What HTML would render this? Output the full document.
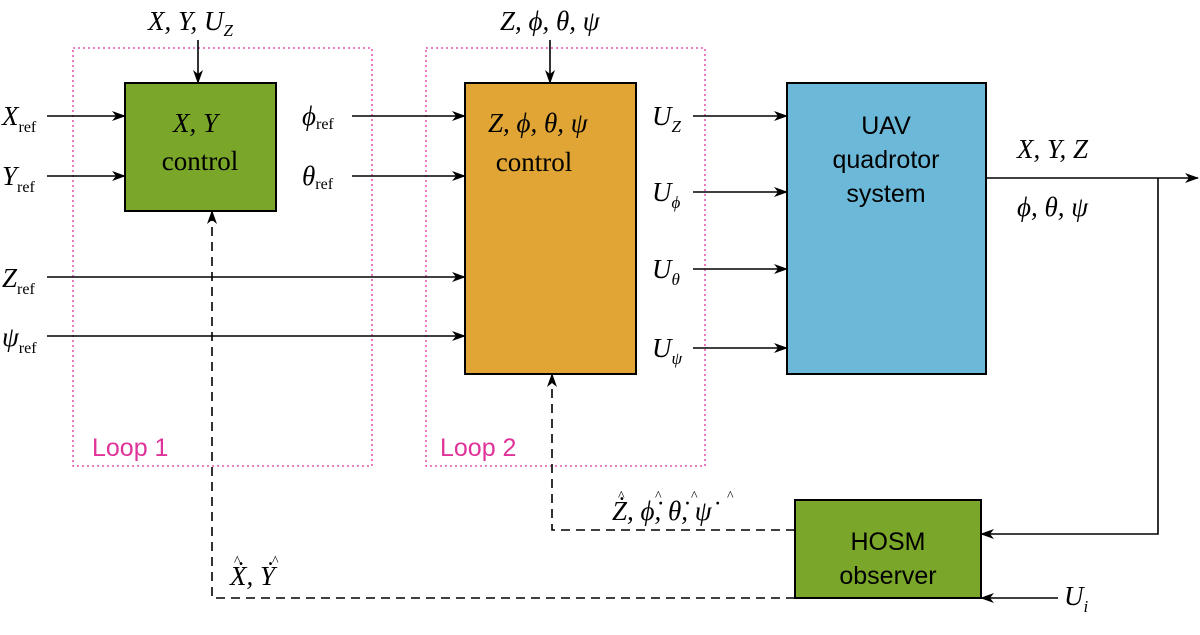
<!DOCTYPE html>
<html><head><style>
body{margin:0;background:#fff}
svg text{font-family:"Liberation Serif",serif;fill:#000}
.s{font-family:"Liberation Sans",sans-serif}
</style></head><body>
<svg width="1200" height="630" viewBox="0 0 1200 630" xmlns="http://www.w3.org/2000/svg">
<defs><marker id="a" markerWidth="14" markerHeight="10" refX="13" refY="5" orient="auto" markerUnits="userSpaceOnUse"><path d="M0,0 L14,5 L0,10 L4,5 z" fill="#000"/></marker></defs>
<rect x="73" y="48" width="299" height="418" fill="none" stroke="#e0339a" stroke-width="1.3" stroke-dasharray="2,3"/>
<rect x="426" y="48" width="279" height="418" fill="none" stroke="#e0339a" stroke-width="1.3" stroke-dasharray="2,3"/>
<text x="92" y="456" font-size="25" fill="#e0339a" style="fill:#e0339a" class="s">Loop 1</text>
<text x="440" y="456" font-size="25" style="fill:#e0339a" class="s">Loop 2</text>
<rect x="125" y="83" width="151" height="128" fill="#7aa62a" stroke="#000" stroke-width="2"/>
<rect x="465" y="83" width="171" height="291" fill="#e0a535" stroke="#000" stroke-width="2"/>
<rect x="787" y="83" width="199" height="291" fill="#6bb8d8" stroke="#000" stroke-width="2"/>
<rect x="795" y="500" width="186" height="98" fill="#7aa62a" stroke="#000" stroke-width="2"/>
<g stroke="#000" stroke-width="1.6" fill="none">
<line x1="47" y1="116" x2="125" y2="116" marker-end="url(#a)"/>
<line x1="47" y1="176" x2="125" y2="176" marker-end="url(#a)"/>
<line x1="47" y1="277" x2="465" y2="277" marker-end="url(#a)"/>
<line x1="47" y1="336" x2="465" y2="336" marker-end="url(#a)"/>
<line x1="198" y1="40" x2="198" y2="83" marker-end="url(#a)"/>
<line x1="550" y1="40" x2="550" y2="83" marker-end="url(#a)"/>
<line x1="352" y1="116" x2="465" y2="116" marker-end="url(#a)"/>
<line x1="352" y1="176" x2="465" y2="176" marker-end="url(#a)"/>
<line x1="693" y1="116" x2="787" y2="116" marker-end="url(#a)"/>
<line x1="693" y1="192" x2="787" y2="192" marker-end="url(#a)"/>
<line x1="693" y1="269" x2="787" y2="269" marker-end="url(#a)"/>
<line x1="693" y1="348" x2="787" y2="348" marker-end="url(#a)"/>
<line x1="986" y1="178" x2="1198" y2="178" marker-end="url(#a)"/>
<polyline points="1158,178 1158,534 981,534" marker-end="url(#a)"/>
<line x1="1058" y1="598" x2="981" y2="598" marker-end="url(#a)"/>
<g stroke-dasharray="9,6">
<polyline points="795,530 552,530 552,374" marker-end="url(#a)"/>
<polyline points="795,598 212,598 212,211" marker-end="url(#a)"/>
</g>
</g>
<g font-size="27" font-style="italic">
<text x="148" y="30">X, Y, U<tspan font-size="17" dy="6">Z</tspan></text>
<text x="500" y="30">Z, ϕ, θ, ψ</text>
<text x="2" y="125">X<tspan font-size="16" font-style="normal" dy="7">ref</tspan></text>
<text x="2" y="185">Y<tspan font-size="16" font-style="normal" dy="7">ref</tspan></text>
<text x="2" y="287">Z<tspan font-size="16" font-style="normal" dy="7">ref</tspan></text>
<text x="2" y="346">ψ<tspan font-size="16" font-style="normal" dy="7">ref</tspan></text>
<text x="302" y="125">ϕ<tspan font-size="16" font-style="normal" dy="4">ref</tspan></text>
<text x="302" y="185">θ<tspan font-size="16" font-style="normal" dy="4">ref</tspan></text>
<text x="173" y="132">X, Y</text>
<text x="488" y="132">Z, ϕ, θ, ψ</text>
<text x="652" y="125">U<tspan font-size="17" dy="7">Z</tspan></text>
<text x="652" y="201">U<tspan font-size="17" dy="7">ϕ</tspan></text>
<text x="652" y="278">U<tspan font-size="17" dy="7">θ</tspan></text>
<text x="652" y="357">U<tspan font-size="17" dy="7">ψ</tspan></text>
<text x="1017" y="158">X, Y, Z</text>
<text x="1017" y="216">ϕ, θ, ψ</text>
<text x="1064" y="605">U<tspan font-size="17" dy="7">i</tspan></text>
<text x="612" y="520">Ż, ϕ̇, θ̇, ψ̇</text>
<text x="230" y="585">Ẋ, Ẏ</text>
</g>
<g font-size="14">
<text x="618" y="500">^</text><text x="655" y="500">^</text><text x="691" y="500">^</text><text x="727" y="500">^</text>
<text x="234" y="565">^</text><text x="272" y="565">^</text>
</g>
<g font-size="27" text-anchor="middle">
<text x="200" y="170">control</text>
<text x="534" y="171">control</text>
<text x="886" y="134" class="s" font-size="25">UAV</text>
<text x="886" y="168" class="s" font-size="25">quadrotor</text>
<text x="886" y="202" class="s" font-size="25">system</text>
<text x="888" y="550" class="s" font-size="25">HOSM</text>
<text x="888" y="584" class="s" font-size="25">observer</text>
</g>
</svg>
</body></html>
